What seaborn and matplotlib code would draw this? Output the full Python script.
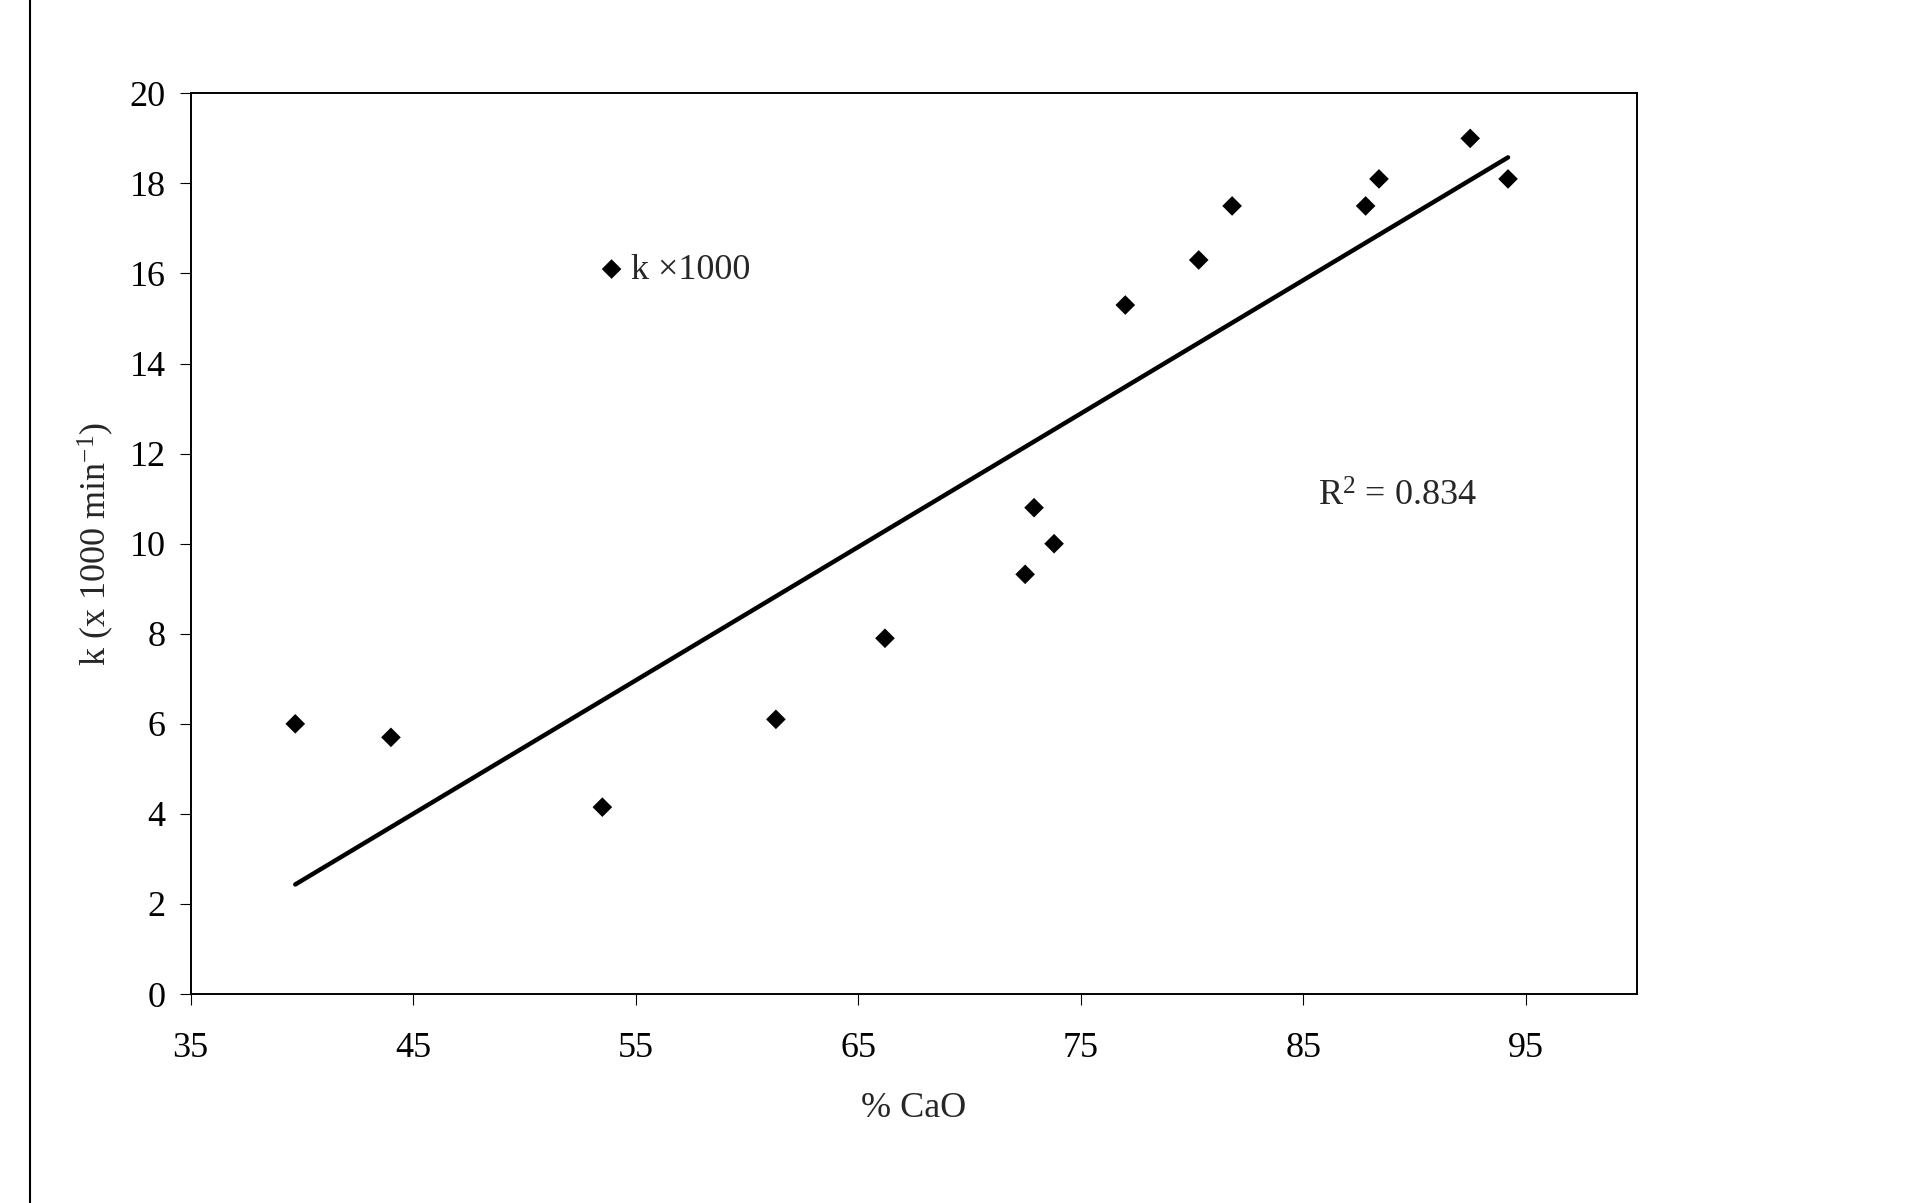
import numpy as np
import pandas as pd
import seaborn as sns
import matplotlib.pyplot as plt
from matplotlib.lines import Line2D

# % CaO vs rate constant (k x 1000, min^-1)
cao = [39.7, 44.0, 53.5, 61.3, 66.2, 72.5, 72.9, 73.8, 77.0, 80.3, 81.8, 87.8, 88.4, 92.5, 94.2]
k_x1000 = [6.0, 5.7, 4.15, 6.1, 7.9, 9.32, 10.8, 10.0, 15.3, 16.3, 17.5, 17.5, 18.1, 19.0, 18.1]

x_ticks = [35, 45, 55, 65, 75, 85, 95]
y_ticks = [0, 2, 4, 6, 8, 10, 12, 14, 16, 18, 20]
r2_label = "R$^2$ = 0.834"
series_label = "k \u00d71000"

df = pd.DataFrame({"cao": cao, "k": k_x1000})

sns.set_style("ticks")
plt.rcParams["font.family"] = ["Liberation Serif", "DejaVu Serif"]
plt.rcParams["mathtext.fontset"] = "custom"
plt.rcParams["mathtext.rm"] = "Liberation Serif"
plt.rcParams["mathtext.it"] = "Liberation Serif:italic"

fs = 26

fig = plt.figure(figsize=(19.26, 12.03), dpi=100)
ax = fig.add_axes([0.099, 0.1737, 0.751, 0.7487])

sns.regplot(data=df, x="cao", y="k", ci=None, marker="D", ax=ax,
            scatter_kws=dict(s=100, color="black", edgecolors="none", alpha=1),
            line_kws=dict(color="black", lw=3.2))

ax.set_xlim(35, 100)
ax.set_ylim(0, 20)
ax.set_xticks(x_ticks)
ax.set_yticks(y_ticks)
ax.tick_params(axis="both", labelsize=fs, length=8, width=0.8, color="black", labelcolor="black")
ax.tick_params(axis="x", pad=19)
ax.tick_params(axis="y", pad=10)
for side in ["top", "bottom", "left", "right"]:
    ax.spines[side].set_visible(True)
    ax.spines[side].set_linewidth(1.4)
    ax.spines[side].set_color("black")

ax.set_xlabel("% CaO", fontsize=fs, labelpad=20)
ax.set_ylabel("k (x 1000 min$^{-1}$)", fontsize=fs, labelpad=10)

ax.text(89.25, 11.04, r2_label, fontsize=fs, ha="center", va="center")

ax.legend(handles=[ax.collections[0]], labels=[series_label], loc="center left",
          bbox_to_anchor=(0.2835, 0.804), frameon=False, fontsize=fs,
          handlelength=0.6, handletextpad=0.25, borderpad=0, borderaxespad=0,
          markerscale=1.0)

# page border on the left edge
fig.add_artist(Line2D([30 / 1926, 30 / 1926], [0, 1], transform=fig.transFigure,
                      color="black", lw=1.5))

fig.savefig("out.png", dpi=100, facecolor="white")
